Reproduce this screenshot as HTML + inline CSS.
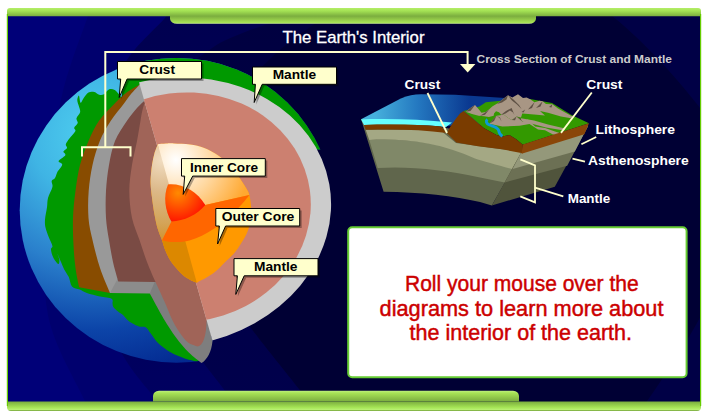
<!DOCTYPE html>
<html lang="en">
<head>
<meta charset="utf-8">
<title>The Earth's Interior</title>
<style>
html,body{margin:0;padding:0;background:#ffffff;}
body{width:709px;height:419px;overflow:hidden;}
svg{display:block;}
text{font-family:"Liberation Sans",sans-serif;}
.lb{font-weight:bold;font-size:13.5px;fill:#000000;}
.wl{font-weight:bold;font-size:13.5px;fill:#ffffff;}
.sub{font-weight:bold;font-size:11.5px;fill:#cccccc;}
.ti{font-size:17px;fill:#ffffff;stroke:#ffffff;stroke-width:0.3px;}
.msg{font-size:21.5px;fill:#cc0000;stroke:#cc0000;stroke-width:0.45px;}
</style>
</head>
<body>
<svg width="709" height="419" viewBox="0 0 709 419">
<defs>
<linearGradient id="bg" x1="0" y1="0" x2="1" y2="0">
<stop offset="0" stop-color="#00007a"/><stop offset="0.2" stop-color="#000068"/><stop offset="0.45" stop-color="#000048"/><stop offset="1" stop-color="#000038"/>
</linearGradient>
<linearGradient id="barT" x1="0" y1="0" x2="0" y2="1">
<stop offset="0" stop-color="#b4ee68"/><stop offset="0.35" stop-color="#a4e254"/><stop offset="1" stop-color="#7aac3e"/>
</linearGradient>
<linearGradient id="tabT" x1="0" y1="0" x2="0" y2="1">
<stop offset="0" stop-color="#7aac3e"/><stop offset="0.5" stop-color="#96cc4a"/><stop offset="0.85" stop-color="#a8e456"/><stop offset="1" stop-color="#d4f6a0"/>
</linearGradient>
<linearGradient id="barB" x1="0" y1="0" x2="0" y2="1">
<stop offset="0" stop-color="#7aac3e"/><stop offset="0.6" stop-color="#a4e254"/><stop offset="0.85" stop-color="#b8f070"/><stop offset="1" stop-color="#6c9a34"/>
</linearGradient>
<linearGradient id="tabB" x1="0" y1="0" x2="0" y2="1">
<stop offset="0" stop-color="#c0f080"/><stop offset="0.2" stop-color="#a8e456"/><stop offset="1" stop-color="#7aac3e"/>
</linearGradient>
<radialGradient id="ocean" gradientUnits="userSpaceOnUse" cx="95" cy="135" r="260">
<stop offset="0" stop-color="#4fd0f0"/><stop offset="0.25" stop-color="#3fb4e4"/><stop offset="0.5" stop-color="#2a80cc"/><stop offset="0.75" stop-color="#0c44a8"/><stop offset="1" stop-color="#002088"/>
</radialGradient>
<radialGradient id="coreL" gradientUnits="userSpaceOnUse" cx="176" cy="160" r="75">
<stop offset="0" stop-color="#ffffff"/><stop offset="0.15" stop-color="#fff4e4"/><stop offset="0.5" stop-color="#ffd8a0"/><stop offset="1" stop-color="#ffa830"/>
</radialGradient>
<radialGradient id="coreS" gradientUnits="userSpaceOnUse" cx="162" cy="160" r="90">
<stop offset="0" stop-color="#f0dcc0"/><stop offset="0.35" stop-color="#dcb888"/><stop offset="0.7" stop-color="#d4a458"/><stop offset="1" stop-color="#d08a1c"/>
</radialGradient>
<radialGradient id="inner" gradientUnits="userSpaceOnUse" cx="178" cy="193" r="32">
<stop offset="0" stop-color="#ff8a00"/><stop offset="0.5" stop-color="#ff4a00"/><stop offset="1" stop-color="#ff0a00"/>
</radialGradient>
<linearGradient id="sea" gradientUnits="userSpaceOnUse" x1="375" y1="112" x2="470" y2="112">
<stop offset="0" stop-color="#46b0dc"/><stop offset="0.45" stop-color="#2478c0"/><stop offset="1" stop-color="#0a3890"/>
</linearGradient>
<clipPath id="globeClip"><ellipse cx="176.5" cy="210.3" rx="156.8" ry="152.4"/></clipPath>
<linearGradient id="r2" gradientUnits="userSpaceOnUse" x1="0" y1="16" x2="0" y2="402"><stop offset="0" stop-color="#000050"/><stop offset="1" stop-color="#000060"/></linearGradient>
<linearGradient id="r3" gradientUnits="userSpaceOnUse" x1="0" y1="16" x2="0" y2="402"><stop offset="0" stop-color="#000040"/><stop offset="1" stop-color="#00004c"/></linearGradient>
<clipPath id="frameClip"><rect x="7" y="12" width="694" height="395"/></clipPath>
<clipPath id="rightOfHinge"><path d="M115.7,0 L709,0 L709,419 L234.7,419 Z"/></clipPath>
<clipPath id="globeVis"><path d="M0,0 L709,0 L709,149.5 L158.2,149.5 L212.5,341 L201.8,364 L201.8,419 L0,419 Z"/></clipPath>
</defs>
<rect x="0" y="0" width="709" height="419" fill="#ffffff"/>
<rect x="7" y="12" width="694" height="395" fill="#000078"/>
<g clip-path="url(#frameClip)">
<path d="M94.0,0.0 C93.0,2.7 93.5,-0.7 88.0,16.0 C82.5,32.7 67.8,67.7 61.0,100.0 C54.2,132.3 49.2,174.2 47.0,210.0 C44.8,245.8 41.8,283.5 48.0,315.0 C54.2,346.5 76.2,381.7 84.0,399.0 C91.8,416.3 93.2,415.7 95.0,419.0 L709,419 L709,0 Z" fill="#00006e"/>
<path d="M180.0,0.0 C177.6,2.8 176.4,3.7 165.8,17.0 C155.2,30.3 128.0,49.2 116.7,79.7 C105.4,110.2 98.8,158.3 98.0,200.0 C97.2,241.7 102.2,296.5 112.0,330.0 C121.8,363.5 146.5,386.2 157.0,401.0 C167.5,415.8 172.0,416.0 175.0,419.0 L709,419 L709,0 Z" fill="url(#r2)"/>
<path d="M330.0,0.0 C325.0,2.3 314.2,8.7 300.0,14.0 C285.8,19.3 260.3,25.8 245.0,32.0 C229.7,38.2 220.5,41.3 208.0,51.0 C195.5,60.7 179.7,65.2 170.0,90.0 C160.3,114.8 150.0,161.7 150.0,200.0 C150.0,238.3 161.7,293.6 170.0,320.0 C178.3,346.4 190.8,346.6 200.0,358.5 C209.2,370.4 218.0,381.4 225.5,391.5 C233.0,401.6 241.8,414.4 245.0,419.0 L709,419 L709,0 Z" fill="url(#r3)"/>
<path d="M370.0,0.0 C363.3,2.7 339.5,11.8 330.0,16.0 C320.5,20.2 323.0,17.8 313.0,25.0 C303.0,32.2 282.2,46.5 270.0,59.0 C257.8,71.5 247.5,76.5 240.0,100.0 C232.5,123.5 225.8,166.7 225.0,200.0 C224.2,233.3 230.7,278.7 235.0,300.0 C239.3,321.3 240.3,313.2 251.0,328.0 C261.7,342.8 287.2,373.8 299.0,389.0 C310.8,404.2 318.2,414.0 322.0,419.0 L709,419 L709,0 Z" fill="#000034"/>
<path d="M590,0 C630,25 680,80 709,120 L709,0 Z" fill="#000046"/>
<path d="M709,300 C697,325 676,360 645,404 L636,419 L709,419 Z" fill="#000046"/>
</g>
<g clip-path="url(#globeVis)">
<ellipse cx="176.5" cy="210.3" rx="156.8" ry="152.4" fill="url(#ocean)"/>
<g clip-path="url(#globeClip)">
<path d="M121.0,97.0 C120.8,96.7 120.5,96.2 119.5,95.0 C118.5,93.8 116.5,90.9 114.7,90.0 C112.9,89.1 110.6,88.8 108.8,89.5 C107.0,90.2 105.6,93.4 104.0,94.3 C102.4,95.2 100.8,95.2 99.2,94.8 C97.6,94.4 96.2,92.4 94.4,92.0 C92.6,91.6 90.3,91.4 88.5,92.4 C86.7,93.4 85.0,96.2 83.7,97.9 C82.4,99.6 81.4,103.1 80.6,102.7 C79.8,102.3 79.5,95.9 78.9,95.5 C78.4,95.1 77.3,98.5 77.3,100.3 C77.3,102.1 78.4,104.3 78.9,106.3 C79.4,108.3 80.5,110.2 80.1,112.2 C79.7,114.2 76.9,116.4 76.5,118.2 C76.1,120.0 78.1,121.4 77.7,123.0 C77.3,124.6 74.6,126.3 74.2,127.7 C73.8,129.1 76.1,129.5 75.3,131.3 C74.5,133.1 71.0,136.3 69.4,138.5 C67.8,140.7 66.2,142.8 65.8,144.4 C65.4,146.0 67.4,146.8 67.0,148.0 C66.6,149.2 63.7,150.4 63.4,151.6 C63.1,152.8 66.1,153.6 65.3,155.2 C64.5,156.8 59.1,159.5 58.6,161.1 C58.1,162.7 62.4,162.9 62.2,164.7 C62.0,166.5 58.6,169.7 57.4,171.9 C56.2,174.1 56.0,176.5 55.0,178.0 C54.0,179.5 52.1,179.5 51.7,181.0 C51.3,182.5 53.0,184.2 52.4,187.0 C51.8,189.8 48.9,194.6 48.0,198.0 C47.1,201.4 47.5,203.7 47.0,207.3 C46.5,210.9 45.2,216.3 45.0,219.7 C44.8,223.1 44.9,224.7 45.5,227.5 C46.1,230.3 47.5,233.7 48.6,236.8 C49.8,239.9 52.0,243.9 52.4,246.0 C52.8,248.1 51.0,247.6 51.0,249.2 C51.0,250.8 51.7,253.5 52.4,255.4 C53.1,257.3 54.0,259.1 55.0,260.5 C56.0,261.9 57.8,264.2 58.5,264.0 C59.2,263.8 59.5,261.2 59.3,259.5 C59.1,257.8 57.2,253.6 57.5,254.0 C57.8,254.4 59.9,259.4 61.0,262.0 C62.1,264.6 62.9,266.9 64.2,269.4 C65.5,271.9 67.5,274.2 68.8,277.1 C70.1,280.0 70.2,284.4 72.0,286.5 C73.8,288.6 77.2,288.5 79.7,289.6 C82.2,290.7 83.4,291.9 86.8,293.0 C90.2,294.1 95.9,295.6 100.0,296.5 C104.1,297.4 109.5,297.5 111.6,298.7 C113.7,299.9 112.2,302.1 112.5,303.5 C112.8,304.9 112.6,306.0 113.5,307.3 C114.4,308.6 116.4,310.2 118.0,311.5 C119.6,312.8 121.4,313.6 123.0,315.0 C124.6,316.4 125.9,318.6 127.5,320.0 C129.1,321.4 130.7,322.5 132.6,323.6 C134.5,324.7 136.8,325.9 139.0,326.5 C141.2,327.1 144.0,326.2 146.0,327.4 C148.0,328.6 149.0,331.2 150.8,333.6 C152.6,336.0 154.9,339.7 157.0,342.0 C159.1,344.3 161.3,345.9 163.5,347.6 C165.7,349.3 167.9,350.8 170.0,352.0 C172.1,353.2 173.3,353.8 176.0,355.0 C178.7,356.2 183.7,358.1 186.3,359.0 C188.9,359.9 188.9,359.6 191.4,360.3 C193.9,361.1 199.8,363.0 201.5,363.5 L197,352 L182,336 L169,318 L158,300 L150,288 L115,287 L95,286 L84,268 L80.5,245 L80.5,218 L82,190.8 L86,165 L94,141 L105,120.8 L119,103.9 L130,94Z" fill="#009900"/>
<path d="M122,100 L122,40 L345,40 L345,175 L300,175 L200,120 Z" fill="#009900"/>
</g></g>
<path d="M139.7,84.4 C137.4,85.8 130.2,89.8 126.0,93.0 C121.8,96.2 118.7,99.3 114.2,103.9 C109.7,108.5 103.3,114.6 99.0,120.8 C94.7,127.0 91.7,133.6 88.5,141.0 C85.3,148.4 82.2,156.7 80.0,165.0 C77.8,173.3 76.7,182.0 75.5,190.8 C74.3,199.6 73.3,209.0 73.0,218.0 C72.7,227.0 73.1,236.7 73.5,245.0 C73.9,253.3 74.6,260.9 75.5,268.0 C76.4,275.1 78.5,284.1 79.1,287.3 L110,293 L160,293  L200.4,293.0 L140.8,83.0 Z" fill="#884c00"/>
<path d="M139.7,84.4 C138.2,86.0 133.7,90.8 131.0,94.0 C128.3,97.2 127.0,99.4 123.6,103.9 C120.2,108.4 114.8,114.6 110.8,120.8 C106.8,127.0 102.8,133.6 99.8,141.0 C96.8,148.4 94.3,156.7 92.5,165.0 C90.7,173.3 89.4,182.0 88.7,190.8 C88.0,199.6 87.9,209.8 88.5,218.0 C89.1,226.2 90.6,231.7 92.5,240.0 C94.4,248.3 97.1,259.2 100.0,268.0 C102.9,276.8 108.3,288.8 110.0,293.0 L160,293  L200.4,293.0 L140.8,83.0 Z" fill="#999999"/>
<path d="M110,293 L117.5,279 L160,279 L160,293.6 L149.8,293.6 Z" fill="#8c8c8c"/>
<path d="M149.8,293.6 C152.1,297.7 159.1,311.1 163.5,318.4 C167.9,325.7 171.8,331.7 176.0,337.4 C180.2,343.1 184.6,348.3 188.8,352.6 C193.1,356.9 199.4,361.3 201.5,363.0 C207,360 211.5,352 212.5,341 L208.1,320 L196.7,280 L155.5,280 Z" fill="#7e7e7e"/>
<path d="M145.7,99.5 C144.2,100.9 140.1,104.5 137.0,108.0 C133.9,111.5 130.7,115.3 127.0,120.8 C123.3,126.3 118.0,133.6 115.0,141.0 C112.0,148.4 110.5,156.7 109.0,165.0 C107.5,173.3 106.5,182.0 106.0,190.8 C105.5,199.6 105.5,209.8 106.0,218.0 C106.5,226.2 107.8,232.7 109.0,240.0 C110.2,247.3 111.5,255.1 113.0,262.0 C114.5,268.9 117.4,278.2 118.3,281.5 L155.5,282.1 L160,282.2  L197.4,282.2 L145.5,99.5 Z" fill="#7a4b44"/>
<path d="M145.7,99.5 C145.2,101.2 143.4,106.5 142.5,110.0 C141.6,113.5 141.4,115.6 140.5,120.8 C139.6,126.0 138.4,133.6 137.0,141.0 C135.6,148.4 133.3,156.7 132.0,165.0 C130.7,173.3 129.3,182.0 129.3,190.8 C129.3,199.6 130.3,209.8 132.0,218.0 C133.7,226.2 137.0,232.7 139.5,240.0 C142.0,247.3 144.3,255.0 147.0,262.0 C149.7,269.0 154.1,278.8 155.5,282.1  C156.9,285.2 161.1,294.1 164.0,300.5 C166.9,306.9 170.0,315.3 172.7,320.7 C175.4,326.1 177.4,329.4 180.0,333.0 C182.6,336.6 185.1,340.2 188.0,342.5 C190.9,344.8 196.1,345.8 197.7,346.5 C203,345.5 206.5,336 206.5,320.8  L208.3,320.8 L145.5,99.5 Z" fill="#a06458"/>
<g clip-path="url(#rightOfHinge)">
<ellipse cx="173.13" cy="212.06" rx="158.66" ry="134.06" transform="rotate(-10.11 173.13 212.06)" fill="#cccccc"/>
<ellipse cx="183.99" cy="207.22" rx="127.01" ry="114.62" transform="rotate(-7.43 183.99 207.22)" fill="#cc8070"/>
</g>
<path d="M157.8,144.2 C159.2,144.1 163.3,143.6 166.0,143.5 C168.7,143.4 170.0,143.2 174.0,143.4 C178.0,143.6 184.9,143.7 190.0,144.5 C195.1,145.3 199.5,146.1 204.3,148.0 C209.1,149.9 214.3,152.8 218.6,155.7 C222.9,158.6 226.4,161.7 230.0,165.5 C233.6,169.3 237.1,174.5 240.0,178.6 C242.9,182.7 245.6,187.3 247.2,190.0 C248.8,192.7 248.8,192.5 249.4,195.0 C250.0,197.5 250.7,201.8 251.0,205.0 C251.3,208.2 251.3,211.1 251.3,214.0 C251.3,216.9 251.3,220.3 251.0,222.4 C250.7,224.5 250.3,224.4 249.3,226.8 C248.3,229.2 247.4,232.8 245.0,237.0 C242.6,241.2 238.4,248.0 235.0,252.2 C231.6,256.4 227.8,259.3 224.7,262.4 C221.6,265.5 219.1,268.4 216.3,270.8 C213.5,273.2 211.1,274.8 207.8,276.8 C204.6,278.8 198.6,281.7 196.8,282.7  C195.8,282.3 192.9,281.3 190.8,280.2 C188.7,279.1 186.2,277.8 184.0,276.0 C181.8,274.2 179.6,271.8 177.3,269.2 C175.1,266.6 172.5,263.8 170.5,260.7 C168.5,257.6 166.8,253.9 165.4,250.5 C164.0,247.1 163.3,243.8 162.0,240.2 C160.7,236.6 159.1,233.4 157.8,229.0 C156.5,224.6 155.4,219.2 154.4,213.9 C153.4,208.6 152.5,202.0 151.9,197.0 C151.3,192.0 150.8,187.8 150.6,184.0 C150.4,180.2 150.7,177.3 151.0,173.9 C151.3,170.5 151.6,167.1 152.2,163.7 C152.8,160.3 153.5,156.8 154.4,153.6 C155.3,150.3 157.2,145.8 157.8,144.2 Z" fill="#ff9900"/>
<path d="M157.8,144.2 C159.2,144.1 163.3,143.6 166.0,143.5 C168.7,143.4 170.0,143.2 174.0,143.4 C178.0,143.6 184.9,143.7 190.0,144.5 C195.1,145.3 199.5,146.1 204.3,148.0 C209.1,149.9 214.3,152.8 218.6,155.7 C222.9,158.6 226.4,161.7 230.0,165.5 C233.6,169.3 237.1,174.5 240.0,178.6 C242.9,182.7 245.6,187.3 247.2,190.0 C248.8,192.7 249.0,194.2 249.4,195.0 L205.3,205 L168,184.4 L160.2,160 Z" fill="url(#coreL)"/>
<path d="M162.0,240.2 C161.3,238.3 159.1,233.4 157.8,229.0 C156.5,224.6 155.4,219.2 154.4,213.9 C153.4,208.6 152.5,202.0 151.9,197.0 C151.3,192.0 150.8,187.8 150.6,184.0 C150.4,180.2 150.7,177.3 151.0,173.9 C151.3,170.5 151.6,167.1 152.2,163.7 C152.8,160.3 153.5,156.8 154.4,153.6 C155.3,150.3 157.2,145.8 157.8,144.2 L162.2,160 L169,184.4 L172,200 L172.4,221.5 Z" fill="url(#coreS)"/>
<path d="M196.8,282.7 C195.8,282.3 192.9,281.3 190.8,280.2 C188.7,279.1 186.2,277.8 184.0,276.0 C181.8,274.2 179.6,271.8 177.3,269.2 C175.1,266.6 172.5,263.8 170.5,260.7 C168.5,257.6 166.8,253.9 165.4,250.5 C164.0,247.1 162.6,241.9 162.0,240.2 L172,235 L184.4,238 Z" fill="#dc8800"/>
<path d="M249.4,195.0 C248.2,196.5 244.9,200.8 242.0,204.0 C239.1,207.2 235.7,211.1 232.0,214.5 C228.3,217.9 224.0,221.5 220.0,224.5 C216.0,227.5 211.8,230.2 207.8,232.5 C203.8,234.8 199.9,236.8 196.0,238.3 C192.1,239.8 188.4,241.0 184.4,241.6 C180.4,242.2 175.7,242.2 172.0,242.0 C168.3,241.8 163.7,240.5 162.0,240.2 L171.4,221.5 L185,212 L205.3,205 Z" fill="#ff6600"/>
<path d="M168,184.4 C182,183 197,191 205.3,205 C197,215 184,221 171.4,221.5 C165,211 163,196 168,184.4 Z" fill="url(#inner)"/>
<path d="M105.3,147.3 L105.3,52 L467.6,52 L467.6,65" fill="none" stroke="#ffffcc" stroke-width="2"/>
<path d="M460,64 L475.4,64 L467.7,72.6 Z" fill="#ffffcc"/>
<path d="M82,156.4 L82,147.3 L130.5,147.3 L130.5,156.4" fill="none" stroke="#ffffcc" stroke-width="2"/>
<path d="M361,119 L383.6,191.8 C420,192 455,196.5 480,202 L491.8,205.5 L522.5,152 L447,128 Z" fill="#60664c"/>
<path d="M369.3,140 L377.7,168 C410,166 445,170 480,177.5 L504.7,182.6 L513,169 C495,158 480,156 475,155.6 C440,142 400,138 369.3,140 Z" fill="#808868"/>
<path d="M365.7,129.8 L369.3,140 C400,138 440,142 475,158.6 C482,161 500,166 512.6,169.2 L522.5,152 L500,149 L456,143 L440,130 Z" fill="#a4a884"/>
<path d="M521.5,152 L588,126 L554.8,186.8 L491.8,205.5 Z" fill="#50543c"/>
<path d="M521.5,152 L588,126 L567.2,165.8 L504.7,182.4 Z" fill="#6c7054"/>
<path d="M521.5,152 L588,126 L574.8,151.5 L512.6,168.9 Z" fill="#94987a"/>
<path d="M361,119.2 L400.8,98.5 C408,95.5 414,94.2 421,94.2 L455,94.7 L505,98 L505,124 L440,126 Z" fill="url(#sea)"/>
<path d="M361,119.2 C390,118.5 420,119 452,122.5 L446,127 C420,124.5 390,124 364,125 Z" fill="#66ffff"/>
<path d="M364,125 C390,124 420,124.5 441,126.5 L447,133 C420,129 390,129 365.7,129.8 Z" fill="#7a3c00"/>
<path d="M463.6,111 L479.4,106.5 L485.8,102.2 L498,101 L530,99 L552,103 L571.5,115 L589,123.3 L522.8,144.8 L516.6,139.4 L509.4,135.1 L502.3,136.6 L496.5,135.1 L483.7,128 L472.2,118 Z" fill="#339900"/>
<path d="M489.5,109.0 L492.2,106.5 L498.0,102.9 L503.7,98.6 L508.0,95.3 L512.3,97.6 L518.0,94.3 L523.0,97.9 L526.6,97.6 L530.2,99.3 L534.5,102.2 L539.5,100.8 L542.7,101.3 L546.0,104.0 L552.3,104.2 L558.0,108.5 L566.0,113.0 L572.5,116.5 L571.0,118.3 L561.0,116.5 L548.0,112.8 L540.0,111.0 L545.0,115.5 L534.0,114.5 L522.3,113.6 L521.0,117.5 L516.6,116.5 L511.6,120.1 L507.5,117.5 L503.7,114.4 L501.5,115.0 L499.0,112.2 L496.0,111.3 L494.0,113.5 L493.7,115.8 L489.0,117.0 L484.0,116.2 L478.6,115.8 L472.0,114.0 L465.7,111.8 L470.0,108.3 L475.0,105.0 L478.5,109.0 L481.5,112.8 L485.5,112.0Z" fill="#a89684"/>
<path d="M489.4,123.7 L493.0,119.5 L496.5,115.8 L500.0,115.2 L503.7,114.4 L507.5,117.5 L511.6,120.1 L516.6,116.5 L519.5,119.0 L522.3,121.5 L528.0,119.4 L531.5,123.0 L535.2,126.5 L545.0,128.0 L555.0,131.5 L564.5,134.5 L563.0,136.8 L553.0,134.5 L545.0,130.3 L538.0,129.4 L529.5,123.9 L519.5,125.8 L502.3,126.5Z" fill="#a89684"/>
<path d="M521,118.3 L534,120.5 L548,124.5 L565,128.5 L564,130.6 L546,127.6 L532,123.8 L521,120.8 Z" fill="#a89684"/>
<g fill="#5e5044">
<path d="M475,105 L470,108.3 L465.7,111.8 L470.5,111 Z"/>
<path d="M489.5,109 L484.5,113 L480,115.8 L485,114.8 Z"/>
<path d="M508,95.3 L503.7,98.6 L497,104 L502,102.5 L506.5,99.5 Z"/>
<path d="M508,95.3 L511,99.5 L514.5,103 L512.3,100.8 L517,104.5 L521.5,109 L519,105 L513.5,99.5 Z"/>
<path d="M511.6,108 L506,111 L500.5,115.2 L505.5,113.5 L510,110.5 L513,112.5 L514.5,115 Z"/>
<path d="M496.5,115.8 L492.5,120 L489.4,123.7 L494,121 Z"/>
<path d="M496.5,115.8 L499.5,118 L501.5,121.5 L500,117.5 Z"/>
<path d="M516.6,116.5 L513.5,119 L511.6,120.1 L515,120.3 Z"/>
<path d="M516.6,116.5 L519.5,119 L522.3,121.5 L520.5,118.5 Z"/>
<path d="M525.2,109.4 L521.5,112 L523.5,112.5 Z M534.5,102.2 L531,106 L528,109.5 L532,108 Z M542.7,101.3 L539.5,104.5 L536,108 L540.5,106.5 Z M552.3,104.2 L549,107 L551.5,107.5 Z"/>
</g>
<path d="M440,126.5 L447,133 L449.5,128 L456,118.5 L460,113.5 L463.6,111 L472.2,118 L483.7,128 L496.5,135.1 L502.3,136.6 L509.4,135.1 L516.6,139.4 L522.8,144.8 L522.5,153.3 L502,149.3 L478,146.2 L456.4,142.6 L446.8,133 Z" fill="#7a3c00"/>
<path d="M522.8,144.6 L589,123.2 L584.4,134.3 L521.6,153.8 Z" fill="#8a4608"/>
<path d="M487.5,119.5 C485.5,121 486,123.5 489.5,125 C493,126.3 497.5,127 498.5,130 C499,132.5 499.5,134.8 502.5,136.2" fill="none" stroke="#0c9ad8" stroke-width="2.9"/>
<g stroke="#ffffcc" stroke-width="1.8" fill="none" stroke-linecap="butt">
<path d="M427.5,93 L447,133"/>
<path d="M591.8,92.5 L561,132.9"/>
<path d="M596.2,137 L581.4,144.3"/>
<path d="M585,161.7 L572.5,158.7"/>
<path d="M520.3,159.4 L535,165.4 L535,202.4 L520.3,196.4"/>
<path d="M535,187.6 L563.3,196.4"/>
</g>
<rect x="348.2" y="227.3" width="338.4" height="150" rx="4" ry="4" fill="#ffffff" stroke="#66cc33" stroke-width="2"/>
<path d="M117.5,61.5 L201.5,61.5 L201.5,79 L127.1,79 L119.2,97.5 L120.7,79 L117.5,79 Z" transform="translate(2.0,2.0)" fill="#000000" opacity="0.32"/>
<path d="M117.5,61.5 L201.5,61.5 L201.5,79 L127.1,79 L119.2,97.5 L120.7,79 L117.5,79 Z" fill="#ffffcc" stroke="#000000" stroke-width="1"/>
<text x="139.3" y="73.7" textLength="35.7" lengthAdjust="spacingAndGlyphs" class="lb">Crust</text>
<path d="M252.5,67 L336.5,67 L336.5,84.3 L262.2,84.3 L254.2,102.5 L255.4,84.3 L252.5,84.3 Z" transform="translate(2.0,2.0)" fill="#000000" opacity="0.32"/>
<path d="M252.5,67 L336.5,67 L336.5,84.3 L262.2,84.3 L254.2,102.5 L255.4,84.3 L252.5,84.3 Z" fill="#ffffcc" stroke="#000000" stroke-width="1"/>
<text x="272.7" y="78.7" textLength="43.4" lengthAdjust="spacingAndGlyphs" class="lb">Mantle</text>
<path d="M181.5,158.6 L265.3,158.6 L265.3,176.1 L192.7,176.1 L183.2,194.4 L184.7,176.1 L181.5,176.1 Z" transform="translate(2.0,2.0)" fill="#000000" opacity="0.32"/>
<path d="M181.5,158.6 L265.3,158.6 L265.3,176.1 L192.7,176.1 L183.2,194.4 L184.7,176.1 L181.5,176.1 Z" fill="#ffffcc" stroke="#000000" stroke-width="1"/>
<text x="190" y="172" textLength="68.0" lengthAdjust="spacingAndGlyphs" class="lb">Inner Core</text>
<path d="M215.8,208.5 L299.7,208.5 L299.7,226 L225.6,226 L217.6,244 L219.4,226 L215.8,226 Z" transform="translate(2.0,2.0)" fill="#000000" opacity="0.32"/>
<path d="M215.8,208.5 L299.7,208.5 L299.7,226 L225.6,226 L217.6,244 L219.4,226 L215.8,226 Z" fill="#ffffcc" stroke="#000000" stroke-width="1"/>
<text x="221.7" y="221.4" textLength="72.6" lengthAdjust="spacingAndGlyphs" class="lb">Outer Core</text>
<path d="M234,258.6 L318,258.6 L318,275.8 L244.2,275.8 L235.8,294.4 L237.4,275.8 L234,275.8 Z" transform="translate(2.0,2.0)" fill="#000000" opacity="0.32"/>
<path d="M234,258.6 L318,258.6 L318,275.8 L244.2,275.8 L235.8,294.4 L237.4,275.8 L234,275.8 Z" fill="#ffffcc" stroke="#000000" stroke-width="1"/>
<text x="254" y="271" textLength="43.5" lengthAdjust="spacingAndGlyphs" class="lb">Mantle</text>
<text x="282.4" y="42.7" textLength="142.1" lengthAdjust="spacingAndGlyphs" class="ti">The Earth's Interior</text>
<text x="476.5" y="63.3" textLength="195.5" lengthAdjust="spacingAndGlyphs" class="sub">Cross Section of Crust and Mantle</text>
<text x="404.6" y="88.5" textLength="35.6" lengthAdjust="spacingAndGlyphs" class="wl">Crust</text>
<text x="586.2" y="88.5" textLength="36.3" lengthAdjust="spacingAndGlyphs" class="wl">Crust</text>
<text x="595.5" y="134" textLength="79.5" lengthAdjust="spacingAndGlyphs" class="wl">Lithosphere</text>
<text x="588" y="164.7" textLength="100.7" lengthAdjust="spacingAndGlyphs" class="wl">Asthenosphere</text>
<text x="567.7" y="203" textLength="42.6" lengthAdjust="spacingAndGlyphs" class="wl">Mantle</text>
<text x="405" y="290.9" textLength="233.6" lengthAdjust="spacingAndGlyphs" class="msg">Roll your mouse over the</text>
<text x="379.6" y="315.8" textLength="283.9" lengthAdjust="spacingAndGlyphs" class="msg">diagrams to learn more about</text>
<text x="409.6" y="340.0" textLength="222.4" lengthAdjust="spacingAndGlyphs" class="msg">the interior of the earth.</text>
<path d="M7,16.3 L7,11 Q7,8 10,8 L698,8 Q701,8 701,11 L701,16.3 Z" fill="url(#barT)"/>
<path d="M170,16 L536,16 L536,19 Q535,23.8 529,23.8 L177,23.8 Q171,23.8 170,19 Z" fill="url(#tabT)"/>
<path d="M7,401.5 L701,401.5 L701,407 Q701,411 697,411 L11,411 Q7,411 7,407 Z" fill="url(#barB)"/>
<path d="M153,401.6 L153,396 Q153.5,391 159,390.8 L513,390.8 Q518.5,391 519,396 L519,401.6 Z" fill="url(#tabB)"/>
<rect x="6.8" y="14" width="1.2" height="392" fill="#66cc00"/>
<rect x="700" y="14" width="1.2" height="392" fill="#66cc00"/>
</svg>
</body>
</html>
